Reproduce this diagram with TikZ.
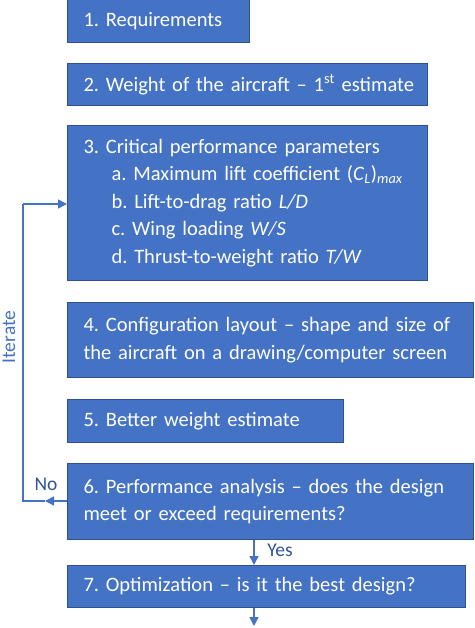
\documentclass[tikz,border=0pt]{standalone}
\usepackage{fontspec}
\setmainfont{Carlito}
\usetikzlibrary{arrows.meta}
\definecolor{boxfill}{HTML}{4472C4}
\definecolor{boxline}{HTML}{2F528F}
\definecolor{lbl}{HTML}{2F5597}
\frenchspacing
\begin{document}
\begin{tikzpicture}[x=1pt,y=-1pt,
  stepbox/.style={draw=boxline, line width=1pt, fill=boxfill, text=white,
    anchor=north west, inner xsep=16pt, inner ysep=0pt, align=left,
    font=\fontsize{20.5}{27.5}\selectfont},
  conn/.style={draw=boxfill, line width=1.5pt},
  tip/.style={-{Triangle[length=9pt,width=9pt]}},
  lab/.style={text=lbl, font=\fontsize{19.5}{22}\selectfont, inner sep=0pt}]
\useasboundingbox (0,0) rectangle (474,628);
\node[stepbox, text width=150, minimum height=43] (b1) at (67,-1) {\mbox{1. Requirements}};
\node[stepbox, text width=328, minimum height=42] (b2) at (67,63) {\mbox{2. Weight of the aircraft -- 1\textsuperscript{st} estimate}};
\node[stepbox, text width=328, minimum height=155] (b3) at (67,125) {\mbox{3. Critical performance parameters}\\
\mbox{\hspace*{28pt}a. Maximum lift coefficient (\textit{C}\textsubscript{\textit{L}})\textsubscript{\textit{max}}}\\
\mbox{\hspace*{28pt}b. Lift-to-drag ratio \textit{L/D}}\\
\mbox{\hspace*{28pt}c. Wing loading \textit{W/S}}\\
\mbox{\hspace*{28pt}d. Thrust-to-weight ratio \textit{T/W}}};
\node[stepbox, text width=374, minimum height=75] (b4) at (67,302) {\mbox{4. Configuration layout -- shape and size of}\\\mbox{the aircraft on a drawing/computer screen}};
\node[stepbox, text width=244, minimum height=43] (b5) at (67,399) {\mbox{5. Better weight estimate}};
\node[stepbox, text width=374, minimum height=76] (b6) at (67,463) {\mbox{6. Performance analysis -- does the design}\\\mbox{meet or exceed requirements?}};
\node[stepbox, text width=366, minimum height=42] (b7) at (67,565) {\mbox{7. Optimization -- is it the best design?}};
\coordinate (ax) at (254,0);
\coordinate (fy6) at (0,501);
\coordinate (fy3) at (0,204);
\coordinate (tipL) at (45,501);
\coordinate (c1) at (23,501);
\coordinate (c2) at (23,204);
\coordinate (endB) at (254,626);
\draw[conn,tip] (b6.south -| ax) -- (b7.north -| ax);
\draw[conn,tip] (b7.south -| ax) -- (endB);
\draw[conn,tip] (b6.west |- fy6) -- (tipL);
\draw[conn] (tipL) -- (c1) -- (c2);
\draw[conn,tip] (c2) -- (b3.west |- fy3);
\node[lab] (no) at (46,484) {No};
\node[lab] (yes) at (280,550) {Yes};
\node[lab, text=boxfill, rotate=90] (it) at (9,337) {Iterate};
\end{tikzpicture}
\end{document}
